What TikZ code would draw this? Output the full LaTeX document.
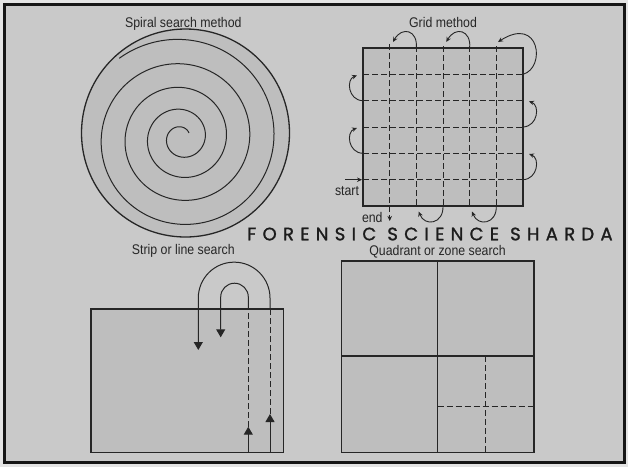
\documentclass[tikz,border=0pt]{standalone}
\usepackage{fontspec}
\setmainfont{Liberation Sans}
\newfontfamily\lblfont[FakeStretch=0.88]{Liberation Sans}
\newfontfamily\wmfont[LetterSpace=35,FakeBold=1.3]{Poppins}
\usetikzlibrary{arrows.meta}
\definecolor{bgc}{RGB}{201,201,201}
\definecolor{fillc}{RGB}{190,190,190}
\definecolor{ink}{RGB}{38,38,38}
\definecolor{rim}{RGB}{228,228,228}
\definecolor{framec}{RGB}{22,22,22}
\definecolor{wmc}{RGB}{28,28,28}
\begin{document}
\begin{tikzpicture}[x=1pt,y=-1pt,
  declare function={sr(\t)=9+0.069*(\t-34)-14*(1-exp(-(\t-34)/400));},
  lbl/.style={font=\lblfont\fontsize{14}{16}\selectfont, text=ink, inner sep=0pt, anchor=base},
  shapebox/.style={draw=ink, line width=1.3pt, fill=fillc},
  plain/.style={draw=ink, line width=1pt},
  dline/.style={draw=ink, line width=0.9pt, dash pattern=on 6pt off 3pt},
  arcline/.style={draw=ink, line width=0.9pt, -{Stealth[length=5pt,width=4.5pt]}},
  bigtip/.style={-{Triangle[length=8pt,width=9pt]}}
]
\useasboundingbox (0,0) rectangle (628,467);
% background and frame
\fill[rim] (0,0) rectangle (628,467);
\draw[draw=framec, line width=3pt, fill=bgc] (4.3,4.2) rectangle (624.2,462.4);

% ---------- Spiral search ----------
\node[lbl] (t1) at (183.3,27.3) {Spiral search method};
\draw[shapebox] (185.5,133) circle[radius=104];
\draw[ink, line width=1pt] plot[domain=34:1568, samples=700, smooth, variable=\t]
  ({181.5+sr(\t)*cos(\t)}, {138-sr(\t)*sin(\t)});

% ---------- Grid method ----------
\node[lbl] (t2) at (443,27) {Grid method};
\draw[shapebox] (363,48) rectangle (523,206);
\foreach \i in {2,...,5}
  \draw[dline] ({363+26.667*\i},46) -- ({363+26.667*\i},206);
\draw[dline, -{Stealth[length=5pt,width=4.5pt]}] (389.7,44) -- (389.7,221);
\foreach \j in {1,...,5}
  \draw[dline] (363,{48+26.333*\j}) -- (523,{48+26.333*\j});
% start arrow
\draw[arcline] (345,179.7) -- (362,179.7);
% right side turns
\draw[arcline] (523,179.7) .. controls (538,179) and (540,158) .. (529,154);
\draw[arcline] (523,127) .. controls (538,126.3) and (540,105.3) .. (529,101.3);
% left side turns
\draw[arcline] (363,153.3) .. controls (348,153) and (346,132) .. (357,128);
\draw[arcline] (363,100.7) .. controls (348,100.4) and (346,79.4) .. (357,75.4);
% big top-right turn
\draw[arcline] (523,74.3) .. controls (546,68) and (540,15) .. (498,42);
% top turns
\draw[arcline] (416.3,48) .. controls (418,30) and (402,26) .. (393,42);
\draw[arcline] (469.7,48) .. controls (471.3,30) and (455.3,26) .. (446.3,42);
% bottom turns
\draw[arcline] (496.3,206) .. controls (497,224) and (478,227) .. (472,211.5);
\draw[arcline] (443,206) .. controls (443.7,224) and (424.7,227) .. (418.7,211.5);
\node[lbl] (st) at (347,195) {start};
\node[lbl] (en) at (372.3,222.7) {end};

% ---------- Watermark ----------
\node[anchor=base west, inner sep=0pt, text=wmc, text depth=0pt,
  font=\wmfont\fontsize{18}{20}\selectfont] (wm) at (247,240.3) {FORENSIC SCIENCE SHARDA};

% ---------- Strip or line search ----------
\node[lbl] (t3) at (183.3,254.5) {Strip or line search};
\draw[shapebox] (91,309) rectangle (283.3,452.3);
\draw[plain, bigtip] (270,452.3) -- (270,414);
\draw[dline] (270,414) -- (270,309);
\draw[plain, bigtip] (270,309) -- (270,298) arc[start angle=0, end angle=-180, radius=35.85] -- (198.3,350);
\draw[plain, bigtip] (248.3,452.3) -- (248.3,426.7);
\draw[dline] (248.3,426.7) -- (248.3,309);
\draw[plain, bigtip] (248.3,309) -- (248.3,297) arc[start angle=0, end angle=-180, radius=13.8] -- (220.7,337.3);

% ---------- Quadrant or zone search ----------
\node[lbl, text height=10pt] (t4) at (437.5,255) {Quadrant or zone search};
\draw[shapebox] (341.7,261) rectangle (534,452.3);
\draw[draw=ink, line width=1.3pt] (437.7,261) -- (437.7,452.3);
\draw[draw=ink, line width=1.3pt] (341.7,356) -- (534,356);
\draw[dline] (485.7,356) -- (485.7,452.3);
\draw[dline] (437.7,406) -- (534,406);
\end{tikzpicture}
\end{document}
